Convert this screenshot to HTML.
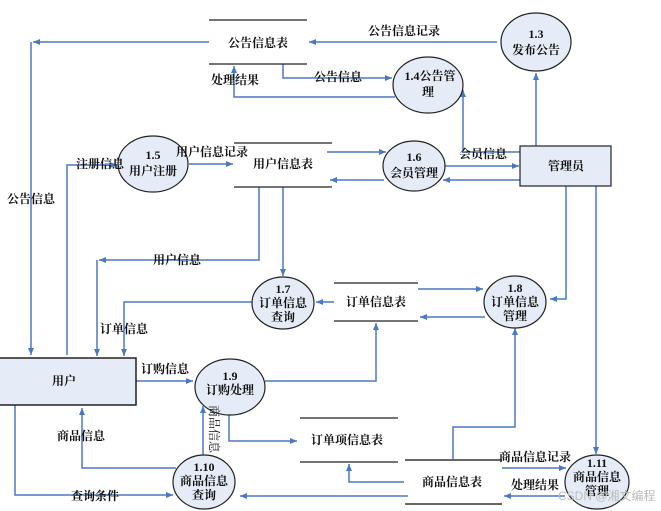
<!DOCTYPE html>
<html><head><meta charset="utf-8"><style>
html,body{margin:0;padding:0;background:#fff}
svg{display:block}
text{font-family:"Liberation Serif","Noto Serif CJK SC",serif;font-size:12px;font-weight:bold;fill:#111}
.l{stroke:#4a78c2;stroke-width:1.5;fill:none}
.c{fill:#e6ecf7;stroke:#222;stroke-width:1.2}
.t{stroke:#222;stroke-width:1.3}
</style></head><body>
<svg width="661" height="511" viewBox="0 0 661 511" xmlns="http://www.w3.org/2000/svg">
<defs><marker id="a" markerWidth="8" markerHeight="8" refX="7" refY="4" orient="auto" markerUnits="userSpaceOnUse"><path d="M0,1 L7,4 L0,7 z" fill="#4a78c2"/></marker></defs>
<g class="l" marker-end="url(#a)">
<path d="M497,42 H309"/>
<path d="M209,42 H33"/>
<path d="M31,42 V355"/>
<path d="M283,64 V78 H392"/>
<path d="M395,97 H234 V66"/>
<path d="M536,146 V73"/>
<path d="M520,152 H463 V90"/>
<path d="M67,355 V165 H117"/>
<path d="M189,164 H233"/>
<path d="M327,152 H386"/>
<path d="M445,166 H519"/>
<path d="M520,180 H443"/>
<path d="M384,180 H330"/>
<path d="M259,187 V260 H99"/>
<path d="M97,260 V356"/>
<path d="M283,187 V276"/>
<path d="M566,186 V299 H550"/>
<path d="M596,186 V454"/>
<path d="M418,289 H483"/>
<path d="M485,317 H420"/>
<path d="M334,302 H316"/>
<path d="M253,302 H124 V356"/>
<path d="M136,381 H193"/>
<path d="M265,381 H376 V323"/>
<path d="M229,415 V441 H297"/>
<path d="M203,456 V406"/>
<path d="M176,468 H82 V408"/>
<path d="M15,405 V495 H173"/>
<path d="M404,482 H349 V464"/>
<path d="M408,496 H240"/>
<path d="M453,460 V427 H515 V328"/>
<path d="M502,468 H566"/>
<path d="M565,496 H504"/>
</g>
<g class="t">
<line x1="209" y1="20" x2="307" y2="20"/><line x1="209" y1="64" x2="307" y2="64"/>
<line x1="234" y1="143" x2="332" y2="143"/><line x1="234" y1="187" x2="332" y2="187"/>
<line x1="334" y1="283" x2="418" y2="283"/><line x1="334" y1="321" x2="418" y2="321"/>
<line x1="300" y1="418" x2="398" y2="418"/><line x1="300" y1="462" x2="398" y2="462"/>
<line x1="405" y1="460" x2="502" y2="460" stroke="#666" stroke-width="2"/><line x1="405" y1="504" x2="502" y2="504" stroke="#666" stroke-width="2"/>
</g>
<ellipse class="c" cx="536" cy="42" rx="35" ry="29"/>
<ellipse class="c" cx="428" cy="85" rx="35" ry="28"/>
<ellipse class="c" cx="153" cy="164" rx="35" ry="28"/>
<ellipse class="c" cx="414" cy="166" rx="31" ry="25"/>
<ellipse class="c" cx="283" cy="303" rx="31" ry="26"/>
<ellipse class="c" cx="515" cy="302" rx="31" ry="26"/>
<ellipse class="c" cx="230" cy="387" rx="35" ry="28"/>
<ellipse class="c" cx="204" cy="482" rx="31" ry="27"/>
<ellipse class="c" cx="597" cy="482" rx="32" ry="27"/>
<rect x="520" y="146" width="91" height="40" fill="#e6ecf7" stroke="#222" stroke-width="1.2"/>
<rect x="-2" y="358" width="138" height="47" fill="#e6ecf7" stroke="#222" stroke-width="1.5"/>
<g text-anchor="middle">
<text x="258" y="47">公告信息表</text>
<text x="536" y="38">1.3</text><text x="536" y="54">发布公告</text>
<text x="430" y="80">1.4公告管</text><text x="428" y="96">理</text>
<text x="153" y="159">1.5</text><text x="153" y="175">用户注册</text>
<text x="283" y="168">用户信息表</text>
<text x="414" y="161">1.6</text><text x="414" y="177">会员管理</text>
<text x="566" y="170">管理员</text>
<text x="283" y="293">1.7</text><text x="283" y="307">订单信息</text><text x="283" y="321">查询</text>
<text x="376" y="306">订单信息表</text>
<text x="515" y="292">1.8</text><text x="515" y="306">订单信息</text><text x="515" y="320">管理</text>
<text x="64" y="385">用户</text>
<text x="230" y="380">1.9</text><text x="230" y="394">订购处理</text>
<text x="347" y="444">订单项信息表</text>
<text x="204" y="471">1.10</text><text x="204" y="485">商品信息</text><text x="204" y="499">查询</text>
<text x="452" y="486">商品信息表</text>
<text x="597" y="467">1.11</text><text x="597" y="481">商品信息</text><text x="597" y="495">管理</text>
<text x="404" y="35">公告信息记录</text>
<text x="235" y="84">处理结果</text>
<text x="338" y="81">公告信息</text>
<text x="100" y="168">注册信息</text>
<text x="212" y="156">用户信息记录</text>
<text x="483" y="158">会员信息</text>
<text x="31" y="203">公告信息</text>
<text x="177" y="264">用户信息</text>
<text x="124" y="333">订单信息</text>
<text x="165" y="373">订购信息</text>
<text x="81" y="440">商品信息</text>
<text x="95" y="500">查询条件</text>
<text x="535" y="461">商品信息记录</text>
<text x="535" y="489">处理结果</text>
</g>
<text x="210" y="405" transform="rotate(90 210 405)" style="font-weight:normal">商品信息</text>
<text x="558" y="500" style="font-weight:normal;fill:#bbb;font-family:'Liberation Sans','Noto Sans CJK SC',sans-serif">CSDN @湘文编程</text>
</svg>
</body></html>
